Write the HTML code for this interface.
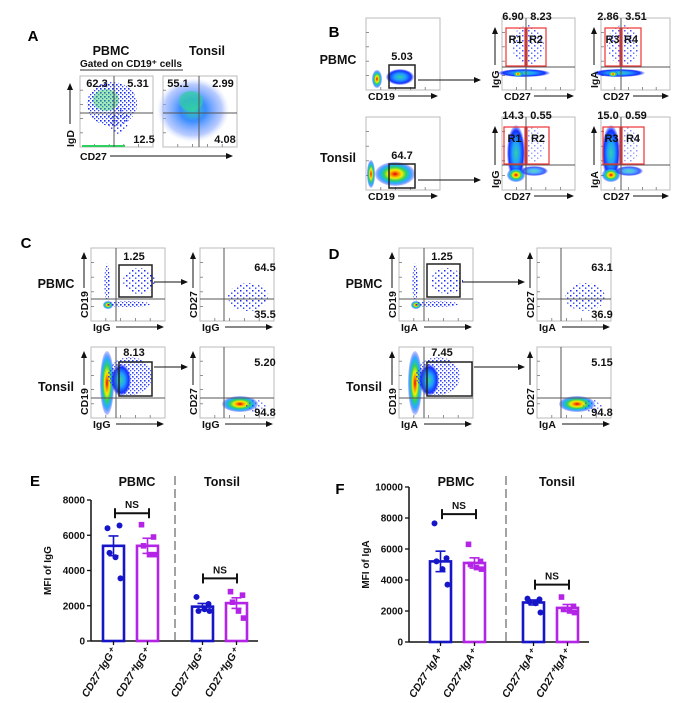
<!DOCTYPE html>
<html><head><meta charset="utf-8"><style>
html,body{margin:0;padding:0;background:#fff;}
svg{display:block;font-family:"Liberation Sans",Arial,sans-serif;}
.n{font-size:11px;font-weight:bold;fill:#111;}
.lb{font-size:12.5px;font-weight:bold;fill:#111;}
.pl{font-size:15px;font-weight:bold;fill:#000;}
.ax{font-size:10.5px;font-weight:bold;fill:#111;}
.tk{font-size:10px;font-weight:bold;fill:#111;}
</style></head><body>
<svg id="fig" width="685" height="703" viewBox="0 0 685 703" xmlns="http://www.w3.org/2000/svg">
<defs>
<radialGradient id="hot"><stop offset="0" stop-color="#e00000"/><stop offset="0.18" stop-color="#ff8800"/><stop offset="0.35" stop-color="#f0f000"/><stop offset="0.55" stop-color="#30d060"/><stop offset="0.75" stop-color="#20b0ff"/><stop offset="1" stop-color="#1020ff" stop-opacity="0.2"/></radialGradient>
<radialGradient id="cool"><stop offset="0" stop-color="#30d0a0"/><stop offset="0.4" stop-color="#20a0ff"/><stop offset="0.8" stop-color="#1530ff"/><stop offset="1" stop-color="#1530ff" stop-opacity="0.1"/></radialGradient>
<radialGradient id="haze"><stop offset="0" stop-color="#30d0b0"/><stop offset="0.35" stop-color="#3a8cff"/><stop offset="0.8" stop-color="#8aa8ff" stop-opacity="0.6"/><stop offset="1" stop-color="#c0d0ff" stop-opacity="0"/></radialGradient>
<pattern id="dots" width="4" height="4" patternUnits="userSpaceOnUse"><rect x="0" y="0" width="1.6" height="1.6" fill="#1a2cf0"/><rect x="2" y="2" width="1.3" height="1.3" fill="#2a40ff"/></pattern>
<pattern id="sparse" width="6" height="5" patternUnits="userSpaceOnUse"><rect x="0" y="0" width="1.5" height="1.5" fill="#1a2cf0"/><rect x="3" y="2.5" width="1.4" height="1.4" fill="#2a40ff"/></pattern>
<marker id="ar" markerWidth="7" markerHeight="6" refX="6" refY="3" orient="auto"><path d="M0,0 L7,3 L0,6 z" fill="#111"/></marker>
</defs>
<g id="flow"></g>
<g id="charts"></g>
</svg>
<script>
// ---------- Chart data (panels E and F) ----------
const groupsE = ["CD27⁻IgG⁺","CD27⁺IgG⁺","CD27⁻IgG⁺","CD27⁺IgG⁺"];
const meansE = [5400, 5400, 1950, 2150];
const semE = [560, 430, 180, 300];
const ptsE0 = [6400, 6550, 5000, 4750, 3550];
const ptsE1 = [6600, 5900, 5400, 4900, 4900];
const ptsE2 = [2500, 2100, 1700, 1800, 1700];
const ptsE3 = [2800, 2600, 2200, 1700, 1300];
const ticksE = [0, 2000, 4000, 6000, 8000];

const groupsF = ["CD27⁻IgA⁺","CD27⁺IgA⁺","CD27⁻IgA⁺","CD27⁺IgA⁺"];
const meansF = [5200, 5100, 2550, 2200];
const semF = [660, 330, 160, 220];
const ptsF0 = [7650, 5400, 5200, 4700, 3700];
const ptsF1 = [6300, 5200, 5000, 4800, 4700];
const ptsF2 = [2800, 2750, 2600, 2500, 1900];
const ptsF3 = [2900, 2300, 2100, 2000, 1900];
const ticksF = [0, 2000, 4000, 6000, 8000, 10000];

const NS = "http://www.w3.org/2000/svg";
const flow = document.getElementById('flow');
const charts = document.getElementById('charts');
function mk(parent, tag, attrs, txt){
  const e = document.createElementNS(NS, tag);
  for (const k in attrs) e.setAttribute(k, attrs[k]);
  if (txt !== undefined) e.textContent = txt;
  parent.appendChild(e); return e;
}
function txt(p, x, y, s, cls, name, anchor, rot){
  const t = mk(p,'text',{x:x,y:y,class:cls,'text-anchor':anchor||'middle'},s);
  if (rot) t.setAttribute('transform','rotate('+rot+' '+x+' '+y+')');
  
  
  return t;
}
function frame(p, x1, y1, x2, y2, name){
  const g = mk(p,'g',{});
  
  
  mk(g,'rect',{x:x1,y:y1,width:x2-x1,height:y2-y1,fill:'none',stroke:'#bbb','stroke-width':1});
  for (let i=1;i<5;i++){ const yy=y1+(y2-y1)*i/5; mk(g,'line',{x1:x1,x2:x1+3,y1:yy,y2:yy,stroke:'#777','stroke-width':0.8}); }
  for (let i=1;i<5;i++){ const xx=x1+(x2-x1)*i/5; mk(g,'line',{x1:xx,x2:xx,y1:y2,y2:y2-3,stroke:'#777','stroke-width':0.8}); }
  return g;
}
function quad(g, x1,y1,x2,y2, vx, hy){
  if (vx) mk(g,'line',{x1:vx,x2:vx,y1:y1,y2:y2,stroke:'#555','stroke-width':1});
  if (hy) mk(g,'line',{x1:x1,x2:x2,y1:hy,y2:hy,stroke:'#555','stroke-width':1});
}
function blob(g, cx, cy, rx, ry, fill, op){ mk(g,'ellipse',{cx:cx,cy:cy,rx:rx,ry:ry,fill:fill,opacity:op||1}); }
function xlab(p, x, y, s, x2, name){
  txt(p, x, y, s, 'ax', name, 'start');
  mk(p,'line',{x1:x+s.length*7+2,x2:x2,y1:y-4,y2:y-4,stroke:'#111','stroke-width':1,'marker-end':'url(#ar)'});
}
function ylab(p, x, y, s, y2, name){
  txt(p, x, y, s, 'ax', name, 'start', -90);
  mk(p,'line',{x1:x-4,x2:x-4,y1:y-s.length*7-2,y2:y2,stroke:'#111','stroke-width':1,'marker-end':'url(#ar)'});
}
function arrow(p,x1,y,x2,name){
  const l = mk(p,'line',{x1:x1,x2:x2,y1:y,y2:y,stroke:'#111','stroke-width':1,'marker-end':'url(#ar)'});
  
  
}
function gate(g,x1,y1,x2,y2,col){ mk(g,'rect',{x:x1,y:y1,width:x2-x1,height:y2-y1,fill:'none',stroke:col||'#222','stroke-width':col?1.2:1.5}); }

// ---------- Panel A ----------
txt(flow,33,41,'A','pl','panel-a-label');
txt(flow,111,55,'PBMC','lb','a-pbmc-title');
txt(flow,207,55,'Tonsil','lb','a-tonsil-title');
txt(flow,131,67,'Gated on CD19⁺ cells','tk','a-gate-note');
mk(flow,'line',{x1:80,x2:183,y1:70,y2:70,stroke:'#333','stroke-width':1});
let g = frame(flow,80,76,153,147,'a-pbmc-plot');
blob(g,112,104,25,22,'url(#dots)');blob(g,106,100,13,11,'#30d060',0.45);blob(g,118,120,10,14,'url(#sparse)');
mk(g,'line',{x1:82,x2:125,y1:146,y2:146,stroke:'#30d060','stroke-width':2});
quad(g,80,76,153,147,114,113);
txt(g,97,87,'62.3','n','a-pbmc-q1');txt(g,138,87,'5.31','n','a-pbmc-q2');txt(g,144,143,'12.5','n','a-pbmc-q4');
g = frame(flow,163,76,237,147,'a-tonsil-plot');
blob(g,193,110,36,32,'url(#haze)');blob(g,191,101,12,10,'#30d0a0',0.7);
quad(g,163,76,237,147,199,113);
txt(g,178,87,'55.1','n','a-tonsil-q1');txt(g,223,87,'2.99','n','a-tonsil-q2');txt(g,225,143,'4.08','n','a-tonsil-q4');
ylab(flow,74,147,'IgD',84,'a-y-label');
xlab(flow,80,160,'CD27',232,'a-x-label');

// ---------- Panel B ----------
txt(flow,334,37,'B','pl','panel-b-label');
txt(flow,338,64,'PBMC','lb','b-pbmc-row-label');
txt(flow,338,162,'Tonsil','lb','b-tonsil-row-label');
function bRow(y1,y2,hy,gateTop,num,n1,n2,n3,n4,tonsil){
  const r = tonsil?'tonsil':'pbmc';
  let g = frame(flow,366,y1,440,y2,'b-'+r+'-cd19-plot');
  if(!tonsil){ blob(g,377,y2-11,5,9,'url(#hot)'); blob(g,400,y2-13,14,8,'url(#cool)'); }
  else { blob(g,371,y2-16,4,14,'url(#hot)'); blob(g,395,y2-16,20,12,'url(#hot)'); }
  gate(g,389,gateTop,415,y2-2);
  txt(g,402,gateTop-5,num,'n','b-'+r+'-cd19-gate-value');
  xlab(flow,368,y2+10,'CD19',437,'b-'+r+'-cd19-x-label');
  arrow(flow,418,y2-10,480,'b-'+r+'-arrow');
  ['IgG','IgA'].forEach((ab,i)=>{
    const x1 = i?601:502, x2 = i?670:575, vx = i?621:526;
    let g2 = frame(flow,x1,y1,x2,y2,'b-'+r+'-'+ab.toLowerCase()+'-plot');
    if(!tonsil){ blob(g2,vx-2,hy+6,26,4,'url(#cool)'); blob(g2,vx-8,hy+7,5,3,'url(#hot)'); blob(g2,vx+2,hy-22,16,20,'url(#sparse)',0.8); }
    else { blob(g2,vx-10,hy-12,9,28,'url(#cool)'); blob(g2,vx-10,hy+10,9,7,'url(#hot)'); blob(g2,vx+8,hy+6,14,5,'url(#cool)',0.8); blob(g2,vx+8,hy-20,10,18,'url(#sparse)',0.5); }
    quad(g2,x1,y1,x2,y2,vx,hy);
    const ra = tonsil ? [x1+2, vx-1] : [x1+4, vx-1];
    gate(g2,ra[0],y1+10,ra[1],hy-1,'#ee3333');
    gate(g2,vx+1,y1+10,vx+(tonsil?23:20),hy-1,'#ee3333');
    txt(g2,(ra[0]+ra[1])/2,y1+25,i?'R3':'R1','n','b-'+r+'-gate-'+(i?'r3':'r1'),'middle');
    txt(g2,vx+(tonsil?12:10),y1+25,i?'R4':'R2','n','b-'+r+'-gate-'+(i?'r4':'r2'),'middle');
    txt(g2,vx-13,y1+2,i?n3:n1,'n','b-'+r+'-'+ab+'-left-value');
    txt(g2,vx+15,y1+2,i?n4:n2,'n','b-'+r+'-'+ab+'-right-value');
    ylab(flow,x1-3,y2-2,ab,y1+10,'b-'+r+'-'+ab.toLowerCase()+'-y-label');
    xlab(flow,x1+2,y2+10,'CD27',x2-2,'b-'+r+'-'+ab.toLowerCase()+'-x-label');
  });
}
bRow(18,90,67,65,'5.03','6.90','8.23','2.86','3.51',false);
bRow(117,190,165,164,'64.7','14.3','0.55','15.0','0.59',true);

// ---------- Panels C and D ----------
function cdPanel(letter, ox, ox2, ab, vals){
  txt(flow,ox-65,letter==='C'?248:259,letter,'pl','panel-'+letter.toLowerCase()+'-label');
  [0,1].forEach(row=>{
    const r = row?'tonsil':'pbmc';
    const y1 = row?347:248, y2 = row?418:321, hy = row?398:299;
    txt(flow,ox-35,row?391:288,row?'Tonsil':'PBMC','lb',letter.toLowerCase()+'-'+r+'-row-label');
    let g = frame(flow,ox,y1,ox+74,y2,letter.toLowerCase()+'-'+r+'-cd19-plot');
    const vx = ox+25;
    if(!row){ blob(g,vx-9,y2-38,2.5,20,'url(#dots)'); blob(g,vx-8,hy+6,5,4,'url(#hot)'); blob(g,vx+12,hy+5,22,3,'url(#dots)'); blob(g,vx+23,hy-18,16,13,'url(#sparse)'); }
    else { blob(g,vx-9,hy-15,7,32,'url(#hot)'); blob(g,vx+14,hy-22,22,19,'url(#dots)',0.9); blob(g,vx+5,hy-18,10,16,'url(#cool)'); }
    quad(g,ox,y1,ox+74,y2,vx,hy);
    const gw = (letter==='D' && row)?45:33;
    gate(g,vx+3,row?362:(letter==='C'?265:264),vx+3+gw,hy-2);
    txt(g,vx+18,row?356:260,vals[row][0],'n',letter.toLowerCase()+'-'+r+'-gate-value');
    ylab(flow,ox-3,y2-3,'CD19',y1+5,letter.toLowerCase()+'-'+r+'-cd19-y-label');
    xlab(flow,ox+2,y2+10,ab,ox+72,letter.toLowerCase()+'-'+r+'-x-label');
    arrow(flow,vx+3+gw+2,row?367:282,ox2-13,letter.toLowerCase()+'-'+r+'-arrow');
    let g2 = frame(flow,ox2,y1,ox2+74,y2,letter.toLowerCase()+'-'+r+'-cd27-plot');
    const vx2 = ox2+24;
    if(!row){ blob(g2,vx2+24,hy-2,20,14,'url(#sparse)'); }
    else { blob(g2,vx2+16,hy+6,18,8,'url(#hot)'); blob(g2,vx2+32,hy+8,10,6,'url(#sparse)',0.7); }
    quad(g2,ox2,y1,ox2+74,y2,vx2,hy);
    txt(g2,ox2+65,row?366:271,vals[row][1],'n',letter.toLowerCase()+'-'+r+'-upper-value');
    txt(g2,ox2+65,row?416:318,vals[row][2],'n',letter.toLowerCase()+'-'+r+'-lower-value');
    ylab(flow,ox2-3,y2-3,'CD27',y1+5,letter.toLowerCase()+'-'+r+'-cd27-y-label');
    xlab(flow,ox2+2,y2+10,ab,ox2+72,letter.toLowerCase()+'-'+r+'-cd27-x-label');
  });
}
cdPanel('C',91,200,'IgG',[['1.25','64.5','35.5'],['8.13','5.20','94.8']]);
cdPanel('D',399,537,'IgA',[['1.25','63.1','36.9'],['7.45','5.15','94.8']]);

// ---------- Bar charts E, F ----------
const blue = '#1616c8', mag = '#b424e6';
function barChart(letter, axX, y0, yTop, maxV, ticks, groups, means, sems, pts, barX, dashX, nsA, nsB, ylabel, titles){
  const L = letter.toLowerCase();
  const G = mk(charts,'g',{});
  
  
  const yS = v => y0 - v/maxV*(y0-yTop);
  txt(G,letter==='E'?35:340,letter==='E'?486:494,letter,'pl','panel-'+L+'-label');
  txt(G,titles[0],486,'PBMC','lb',L+'-pbmc-title');
  txt(G,titles[1],486,'Tonsil','lb',L+'-tonsil-title');
  mk(G,'line',{x1:axX,x2:axX,y1:yTop,y2:y0,stroke:'#111','stroke-width':1.5});
  mk(G,'line',{x1:axX,x2:barX[3]+32,y1:y0,y2:y0,stroke:'#111','stroke-width':1.5});
  ticks.forEach(t=>{
    mk(G,'line',{x1:axX-4,x2:axX,y1:yS(t),y2:yS(t),stroke:'#111','stroke-width':1.3});
    txt(G,axX-6,yS(t)+3.5,String(t),'tk',L+'-y-tick-'+t,'end');
  });
  txt(G,axX-40,(y0+yTop)/2,ylabel,'tk',L+'-y-axis-title','middle',-90);
  mk(G,'line',{x1:dashX,x2:dashX,y1:476,y2:y0-1,stroke:'#666','stroke-width':1.2,'stroke-dasharray':'9,4'});
  const jit = [-6,6,-4,2,7];
  means.forEach((m,i)=>{
    const col = i%2?mag:blue, x=barX[i], w=21, cx=x+w/2;
    const b = mk(G,'rect',{x:x,y:yS(m),width:w,height:y0-yS(m),fill:'none',stroke:col,'stroke-width':2.6});
    
    
    mk(G,'line',{x1:cx,x2:cx,y1:yS(m+sems[i]),y2:yS(m-sems[i]),stroke:col,'stroke-width':1.6});
    mk(G,'line',{x1:cx-5,x2:cx+5,y1:yS(m+sems[i]),y2:yS(m+sems[i]),stroke:col,'stroke-width':1.6});
    mk(G,'line',{x1:cx-5,x2:cx+5,y1:yS(m-sems[i]),y2:yS(m-sems[i]),stroke:col,'stroke-width':1.6});
    pts[i].forEach((v,j)=>{
      let p;
      if(i%2) p = mk(G,'rect',{x:cx+jit[j]-2.8,y:yS(v)-2.8,width:5.6,height:5.6,fill:col});
      else p = mk(G,'circle',{cx:cx+jit[j],cy:yS(v),r:3,fill:col});
      
      
    });
    mk(G,'line',{x1:cx,x2:cx,y1:y0,y2:y0+4,stroke:'#111','stroke-width':1.3});
    const t = txt(G,cx+3,y0+10,groups[i],'ax',L+'-x-label-'+i,'end',-58);
    t.setAttribute('font-style','italic');
  });
  [nsA,nsB].forEach((n,k)=>{
    const y=yS(n[0]);
    mk(G,'line',{x1:n[1],x2:n[2],y1:y,y2:y,stroke:'#111','stroke-width':2});
    mk(G,'line',{x1:n[1],x2:n[1],y1:y-5,y2:y+5,stroke:'#111','stroke-width':2});
    mk(G,'line',{x1:n[2],x2:n[2],y1:y-5,y2:y+5,stroke:'#111','stroke-width':2});
    const t = txt(G,(n[1]+n[2])/2,y-5,'NS','tk',L+'-ns-'+k);
    t.setAttribute('font-weight','normal');t.setAttribute('font-size','12');
  });
}
barChart('E',91,641,500,8000,ticksE,groupsE,meansE,semE,[ptsE0,ptsE1,ptsE2,ptsE3],[103,137,192,226],175,[7250,115,149],[3550,203,237],'MFI of IgG',[137,222]);
barChart('F',409,642,487,10000,ticksF,groupsF,meansF,semF,[ptsF0,ptsF1,ptsF2,ptsF3],[430,464,523,557],506,[8250,442,476],[3700,535,569],'MFI of IgA',[456,557]);
</script>
</body></html>
